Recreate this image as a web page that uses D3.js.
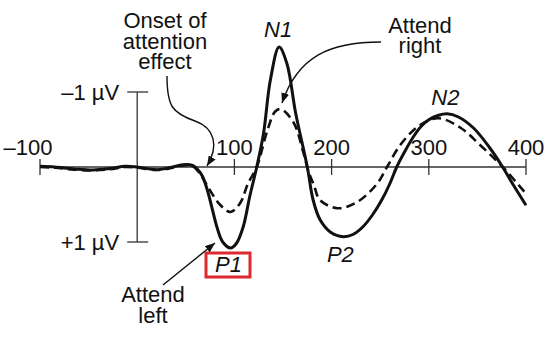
<!DOCTYPE html>
<html>
<head>
<meta charset="utf-8">
<script src="https://cdn.jsdelivr.net/npm/d3@7"></script>
<style>
  body { margin: 0; background: #fff; }
  svg text { font-family: "Liberation Sans", Arial, sans-serif; fill: #111; }
</style>
</head>
<body>
<script>
// chart size
var width = 553;
var height = 345;

// time points (ms) and voltages (uV, positive plotted downward)
var leftTimes = [-100, -85, -65, -45, -28, -12, 0, 20, 33, 47, 57, 62, 67, 72, 78, 82, 88, 96, 102, 109, 116, 123, 130, 137, 146, 154, 163, 175, 181, 188, 199, 212, 222, 232, 242, 252, 260, 267, 275, 284, 292, 300, 310, 319, 330, 346, 363, 375, 387, 400];
var leftValues = [-0.01, 0.0, 0.025, 0.04, 0.02, -0.01, 0.0, 0.035, 0.01, -0.03, -0.02, 0.03, 0.12, 0.3, 0.6, 0.8, 1.0, 1.08, 1.02, 0.8, 0.38, 0.0, -0.45, -1.16, -1.6, -1.38, -0.72, 0.0, 0.44, 0.7, 0.87, 0.93, 0.9, 0.8, 0.64, 0.43, 0.22, 0.0, -0.2, -0.4, -0.54, -0.63, -0.69, -0.71, -0.67, -0.52, -0.25, -0.02, 0.24, 0.51];

var rightTimes = [-100, -85, -65, -45, -28, -12, 0, 20, 33, 47, 57, 64, 73, 85, 96, 106, 114, 123, 134, 142, 148, 161, 171, 176, 182, 188, 206, 226, 247, 257, 271, 291, 310, 333, 353, 376, 401];
var rightValues = [0.0, 0.01, 0.035, 0.045, 0.03, 0.0, 0.01, 0.04, 0.02, -0.02, -0.01, 0.08, 0.27, 0.5, 0.6, 0.48, 0.22, 0.0, -0.49, -0.74, -0.77, -0.59, -0.19, 0.05, 0.25, 0.44, 0.55, 0.47, 0.22, 0.0, -0.3, -0.56, -0.65, -0.52, -0.29, 0.0, 0.37];

var xTicks = [-100, 100, 200, 300, 400];
var yTicks = [-1, 1];
var yTickLabels = ["\u20131 \u00b5V", "+1 \u00b5V"];

// peak names
var peakNames = ["N1", "P1", "P2", "N2"];
var peakTimes = [145, 94, 209, 317];
var peakValues = [-1.73, 1.4, 1.27, -0.83];

var svg = d3.select("body").append("svg")
    .attr("width", width)
    .attr("height", height);

var x = d3.scaleLinear().domain([-100, 400]).range([40, 526]);
var y = d3.scaleLinear().domain([-1, 1]).range([92, 242]);

var axisColor = "#333";

// arrow heads
svg.append("defs").append("marker")
    .attr("id", "arrow")
    .attr("viewBox", "0 0 10 8")
    .attr("refX", 10)
    .attr("refY", 4)
    .attr("markerWidth", 10)
    .attr("markerHeight", 8)
    .attr("markerUnits", "userSpaceOnUse")
    .attr("orient", "auto")
    .append("path")
    .attr("d", "M0,0 L10,4 L0,8 Z")
    .attr("fill", "#111");

// x axis
svg.append("line")
    .attr("x1", x(-100)).attr("x2", x(400))
    .attr("y1", y(0)).attr("y2", y(0))
    .attr("stroke", axisColor).attr("stroke-width", 1.3);

svg.selectAll(".xtick")
    .data(xTicks)
    .enter().append("line")
    .attr("class", "xtick")
    .attr("x1", function(d) { return x(d); })
    .attr("x2", function(d) { return x(d); })
    .attr("y1", y(0) - 8)
    .attr("y2", y(0) + 8)
    .attr("stroke", axisColor).attr("stroke-width", 1.3);

svg.selectAll(".xlabel")
    .data(xTicks)
    .enter().append("text")
    .attr("class", "xlabel")
    .attr("x", function(d) { return x(d) + (d < 0 ? -12 : 0); })
    .attr("y", 155)
    .attr("text-anchor", "middle")
    .style("font-size", "22px")
    .text(function(d) { return d < 0 ? "\u2013" + Math.abs(d) : d; });

// y axis
svg.append("line")
    .attr("x1", x(0)).attr("x2", x(0))
    .attr("y1", y(-1)).attr("y2", y(1))
    .attr("stroke", axisColor).attr("stroke-width", 1.3);

svg.selectAll(".ytick")
    .data(yTicks)
    .enter().append("line")
    .attr("class", "ytick")
    .attr("x1", x(0) - 10)
    .attr("x2", x(0) + 11)
    .attr("y1", function(d) { return y(d); })
    .attr("y2", function(d) { return y(d); })
    .attr("stroke", axisColor).attr("stroke-width", 1.3);

svg.selectAll(".ylabel")
    .data(yTicks)
    .enter().append("text")
    .attr("class", "ylabel")
    .attr("x", x(0) - 18)
    .attr("y", function(d) { return y(d) + 8; })
    .attr("text-anchor", "end")
    .style("font-size", "22px")
    .text(function(d, i) { return yTickLabels[i]; });

// waveforms
var line = d3.line()
    .x(function(d) { return x(d[0]); })
    .y(function(d) { return y(d[1]); })
    .curve(d3.curveCatmullRom.alpha(0.5));

svg.append("path")
    .datum(d3.zip(rightTimes, rightValues))
    .attr("d", line)
    .attr("fill", "none")
    .attr("stroke", "#111")
    .attr("stroke-width", 2.6)
    .attr("stroke-dasharray", "9,5");

svg.append("path")
    .datum(d3.zip(leftTimes, leftValues))
    .attr("d", line)
    .attr("fill", "none")
    .attr("stroke", "#111")
    .attr("stroke-width", 3);

// peak labels
svg.selectAll(".peak")
    .data(peakNames)
    .enter().append("text")
    .attr("class", "peak")
    .attr("x", function(d, i) { return x(peakTimes[i]); })
    .attr("y", function(d, i) { return y(peakValues[i]); })
    .attr("text-anchor", "middle")
    .style("font-size", "22px")
    .style("font-style", "italic")
    .text(function(d) { return d; });

// red box round P1
svg.append("rect")
    .attr("x", 206).attr("y", 253)
    .attr("width", 44).attr("height", 24)
    .attr("fill", "none")
    .attr("stroke", "#dc2a2e")
    .attr("stroke-width", 3);

// annotations, one text block each with a line per tspan
function addNote(lines, cx, top, lineStep) {
    svg.append("text")
        .attr("x", cx)
        .attr("y", top)
        .attr("text-anchor", "middle")
        .style("font-size", "22px")
        .selectAll("tspan")
        .data(lines)
        .enter().append("tspan")
        .attr("x", cx)
        .attr("y", function(d, i) { return top + i * lineStep; })
        .text(function(d) { return d; });
}

addNote(["Onset of", "attention", "effect"], 165, 28, 20.5);
addNote(["Attend", "right"], 420, 33, 20);
addNote(["Attend", "left"], 153, 302, 21);

var arrows = [
    "M167,76 C167,106 172,113 195,121 C215,128 219,146 207,166",
    "M381,42 C330,42 298,56 282,103",
    "M163,285 L215,243"
];

svg.selectAll(".arrow")
    .data(arrows)
    .enter().append("path")
    .attr("class", "arrow")
    .attr("d", function(d) { return d; })
    .attr("fill", "none")
    .attr("stroke", "#111")
    .attr("stroke-width", 1.4)
    .attr("marker-end", "url(#arrow)");
</script>
</body>
</html>
